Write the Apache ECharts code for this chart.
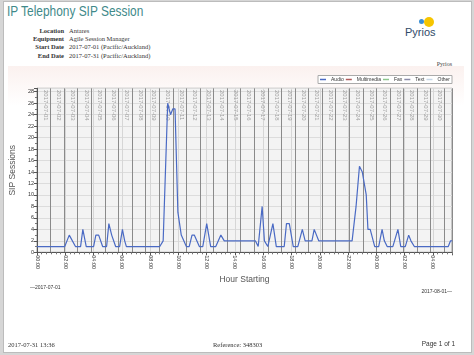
<!DOCTYPE html>
<html><head><meta charset="utf-8">
<script src="https://cdn.jsdelivr.net/npm/echarts@6/dist/echarts.min.js"></script>
<style>
body{margin:0;width:474px;height:355px;background:#d6d6d6;position:relative;overflow:hidden;font-family:'Liberation Sans',Arial,sans-serif}
.abs{position:absolute;white-space:nowrap}
.serif{font-family:'Liberation Serif','Times New Roman',serif;color:#333}
.lbl{width:64px;text-align:right;font-weight:bold;left:0}
.val{left:69px}
</style></head>
<body>
<div class="abs" style="left:3px;top:1px;width:467px;height:350px;background:#fff;border:1px solid #bcbcbc"></div>
<div class="abs" style="left:8px;top:66px;width:456px;height:40px;background:linear-gradient(#fbf1ef,#fff)"></div>
<div class="abs" style="left:7px;top:3px;font-size:14px;color:#3f8a8a;transform:scaleX(0.85);transform-origin:left top">IP Telephony SIP Session</div>
<div class="abs serif lbl" style="top:26.5px;font-size:6.5px">Location</div><div class="abs serif val" style="top:26.5px;font-size:6.5px">Antares</div>
<div class="abs serif lbl" style="top:35px;font-size:6.5px">Equipment</div><div class="abs serif val" style="top:35px;font-size:6.5px">Agile Session Manager</div>
<div class="abs serif lbl" style="top:43.3px;font-size:6.5px">Start Date</div><div class="abs serif val" style="top:43.3px;font-size:6.5px">2017-07-01 (Pacific/Auckland)</div>
<div class="abs serif lbl" style="top:51.8px;font-size:6.5px">End Date</div><div class="abs serif val" style="top:51.8px;font-size:6.5px">2017-07-31 (Pacific/Auckland)</div>
<div class="abs" style="left:424px;top:17px;width:10px;height:10px;border-radius:50%;background:#f6c500"></div>
<div class="abs" style="left:418.5px;top:18.5px;width:5px;height:5px;border-radius:50%;background:#3b8fd4"></div>
<div class="abs" style="left:405px;top:25.5px;font-size:11px;color:#2f4a68">Pyrios</div>
<div class="abs serif" style="right:22px;top:60.5px;font-size:6px;color:#444">Pyrios</div>
<div id="chart" class="abs" style="left:0;top:0;width:474px;height:355px"></div>
<div class="abs" style="left:30px;top:283.5px;font-size:5px;color:#333">—2017-07-01</div>
<div class="abs" style="right:22px;top:288px;font-size:5px;color:#333">2017-08-01—</div>
<div class="abs serif" style="left:8px;top:341px;font-size:6.5px">2017-07-31 13:36</div>
<div class="abs serif" style="left:213px;top:340.5px;font-size:6.5px">Reference: 348303</div>
<div class="abs" style="right:19px;top:340px;font-size:6.5px;color:#333">Page 1 of 1</div>
<script>
const startTime = '2017-07-01 00:00';
const endTime = '2017-07-31 13:36';
const seriesNames = ['Audio', 'Multimedia', 'Fax', 'Text', 'Other'];
const seriesColors = ['#4a6ac4', '#b05a5a', '#8cc68c', '#8a8aa8', '#c6d6e6'];
const dayLabels = ['2017-07-01','2017-07-02','2017-07-03','2017-07-04','2017-07-05','2017-07-06','2017-07-07','2017-07-08','2017-07-09','2017-07-10',
  '2017-07-11','2017-07-12','2017-07-13','2017-07-14','2017-07-15','2017-07-16','2017-07-17','2017-07-18','2017-07-19','2017-07-20',
  '2017-07-21','2017-07-22','2017-07-23','2017-07-24','2017-07-25','2017-07-26','2017-07-27','2017-07-28','2017-07-29','2017-07-30'];
const audioTimes = ['2017-07-01 00:00','2017-07-03 01:00','2017-07-03 09:00','2017-07-03 12:00','2017-07-03 20:00','2017-07-04 05:00','2017-07-04 09:00','2017-07-04 15:00',
  '2017-07-05 04:00','2017-07-05 08:00','2017-07-05 13:00','2017-07-05 20:00','2017-07-06 03:00','2017-07-06 07:00','2017-07-06 12:00','2017-07-06 19:00',
  '2017-07-07 02:00','2017-07-07 07:00','2017-07-07 11:00','2017-07-07 14:00','2017-07-10 01:00','2017-07-10 07:00','2017-07-10 15:00','2017-07-10 20:00',
  '2017-07-11 00:00','2017-07-11 04:00','2017-07-11 09:00','2017-07-11 15:00','2017-07-12 00:00','2017-07-12 05:00','2017-07-12 10:00','2017-07-12 14:00',
  '2017-07-12 23:00','2017-07-13 05:00','2017-07-13 12:00','2017-07-13 19:00','2017-07-14 04:00','2017-07-14 13:00','2017-07-14 19:00','2017-07-17 02:00',
  '2017-07-17 07:00','2017-07-17 14:00','2017-07-17 18:00','2017-07-18 00:00','2017-07-18 09:00','2017-07-18 15:00','2017-07-19 05:00','2017-07-19 09:00',
  '2017-07-19 14:00','2017-07-19 21:00','2017-07-20 05:00','2017-07-20 13:00','2017-07-20 18:00','2017-07-21 06:00','2017-07-21 10:00','2017-07-21 13:00',
  '2017-07-21 18:00','2017-07-24 05:00','2017-07-24 12:00','2017-07-24 18:00','2017-07-24 23:00','2017-07-25 02:00','2017-07-25 06:00','2017-07-25 09:00',
  '2017-07-25 13:00','2017-07-25 21:00','2017-07-26 04:00','2017-07-26 10:00','2017-07-26 14:00','2017-07-26 19:00','2017-07-27 05:00','2017-07-27 14:00',
  '2017-07-27 19:00','2017-07-28 03:00','2017-07-28 09:00','2017-07-28 13:00','2017-07-28 19:00','2017-07-31 07:00','2017-07-31 11:00','2017-07-31 14:00'];
const audioValues = [1,1,3,3,1,1,4,1,
  1,3,3,1,1,5,3,1,
  1,4,2,1,1,2,26,24,
  25,25,7,3,1,1,3,3,
  1,1,5,1,1,3,2,2,
  1,8,2,1,5,1,1,5,
  5,1,1,4,2,2,4,4,
  2,2,8,15,14,14,10,4,
  4,1,1,4,2,1,1,4,
  1,1,3,2,1,1,2,2];
const yMax = 28.6;

const toMs = s => Date.parse(s.replace(' ', 'T'));
const t0 = toMs(startTime);
const toHours = s => (toMs(s) - t0) / 3600000;
const xMax = toHours(endTime);
const pad = n => (n < 10 ? '0' : '') + n;

const FONT = "'Liberation Sans', Arial, sans-serif";
const chart = echarts.init(document.getElementById('chart'));
const series = seriesNames.map((name, i) => ({
  name, type: 'line', xAxisIndex: 0, yAxisIndex: 0, showSymbol: false, symbol: 'none',
  color: seriesColors[i], lineStyle: { color: seriesColors[i], width: 1.2 },
  data: i === 0 ? audioTimes.map((t, k) => [toHours(t), audioValues[k]]) : []
}));
series.push({
  type: 'scatter', silent: true, symbolSize: 0, xAxisIndex: 0, yAxisIndex: 0,
  data: dayLabels.map((d, i) => [(i + 1) * 24 - 9, yMax - 0.3]),
  label: {
    show: true, position: 'inside', rotate: -90, align: 'left', verticalAlign: 'middle',
    fontSize: 6, color: '#8a8a8a', fontFamily: FONT,
    formatter: p => dayLabels[p.dataIndex]
  }
});
chart.setOption({
  animation: false,
  textStyle: { fontFamily: FONT },
  legend: {
    data: seriesNames, right: 22, top: 75.5, icon: 'rect', itemWidth: 6, itemHeight: 1.5, itemGap: 2,
    padding: [1.5, 2], borderColor: '#aaa', borderWidth: 1, backgroundColor: '#fff',
    textStyle: { fontSize: 5, color: '#333', fontFamily: FONT }
  },
  grid: { left: 33, right: 22, top: 88.3, bottom: 102.7, show: true, backgroundColor: '#f3f3f3', borderColor: '#999', borderWidth: 1 },
  xAxis: [{
    type: 'value', min: 0, max: xMax, interval: 50,
    name: 'Hour Starting', nameLocation: 'middle', nameGap: 23,
    nameTextStyle: { fontSize: 8.5, color: '#555', fontFamily: FONT },
    axisLine: { show: true, lineStyle: { color: '#555' } },
    axisTick: { show: true, length: 3, lineStyle: { color: '#555' } },
    minorTick: { show: true, splitNumber: 6, length: 2, lineStyle: { color: '#777' } },
    splitLine: { show: true, lineStyle: { color: '#d6d6d6' } },
    axisLabel: {
      rotate: -90, fontSize: 5.5, color: '#333', margin: 3,
      formatter: v => (Math.abs(v % 50) < 1e-6 ? pad(Math.round(v) % 24) + ':00' : '')
    }
  }, {
    type: 'value', min: 0, max: xMax, interval: 24, position: 'bottom',
    axisLine: { show: false }, axisTick: { show: false }, axisLabel: { show: false },
    splitLine: { show: true, lineStyle: { color: '#8a8a8a', width: 1 } }
  }],
  yAxis: {
    type: 'value', min: 0, max: yMax, interval: 2,
    name: 'SIP Sessions', nameLocation: 'middle', nameGap: 17,
    nameTextStyle: { fontSize: 8.5, color: '#555', fontFamily: FONT },
    axisLine: { show: true, lineStyle: { color: '#555' } },
    axisTick: { show: true, length: 3, lineStyle: { color: '#555' } },
    minorTick: { show: true, splitNumber: 2, length: 2, lineStyle: { color: '#777' } },
    splitLine: { show: true, lineStyle: { color: '#dcdcdc' } },
    axisLabel: { fontSize: 5.5, color: '#333', margin: 3, formatter: v => (Math.abs(v % 2) < 1e-6 ? String(v) : '') }
  },
  series
});
</script>
</body></html>
